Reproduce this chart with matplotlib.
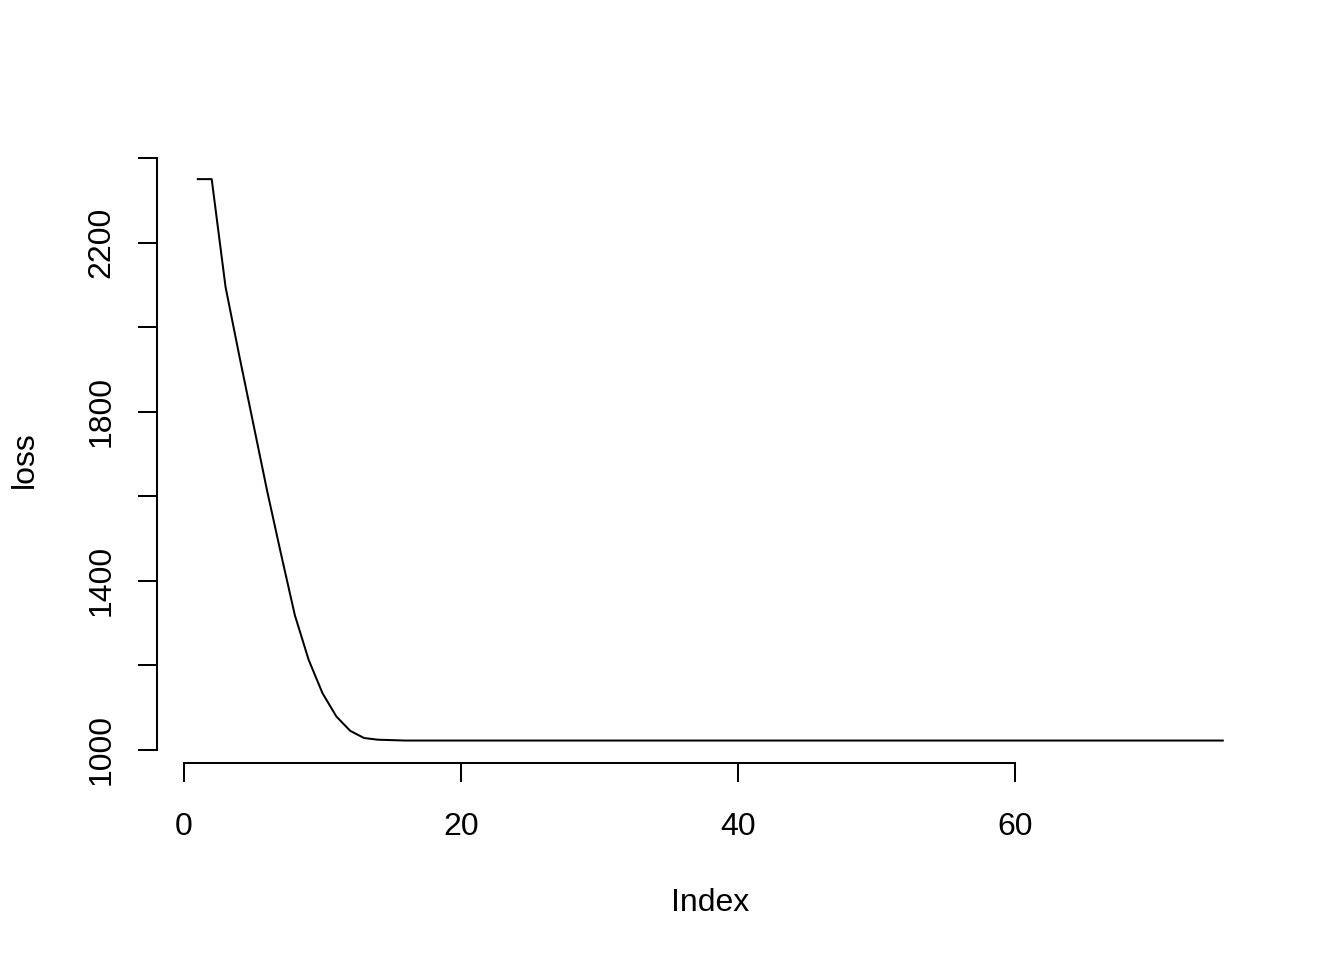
import matplotlib
matplotlib.use("Agg")
import matplotlib.pyplot as plt
import numpy as np

# loss per iteration (index 1..75)
loss = [
    2350, 2350, 2095, 1931, 1772, 1613, 1464, 1319, 1213, 1134,
    1079, 1045, 1028, 1024, 1023, 1022, 1022, 1022, 1022, 1022,
    1022, 1022, 1022, 1022, 1022, 1022, 1022, 1022, 1022, 1022,
    1022, 1022, 1022, 1022, 1022, 1022, 1022, 1022, 1022, 1022,
    1022, 1022, 1022, 1022, 1022, 1022, 1022, 1022, 1022, 1022,
    1022, 1022, 1022, 1022, 1022, 1022, 1022, 1022, 1022, 1022,
    1022, 1022, 1022, 1022, 1022, 1022, 1022, 1022, 1022, 1022,
    1022, 1022, 1022, 1022, 1022,
]
index = np.arange(1, len(loss) + 1)

x_ticks = [0, 20, 40, 60]
y_ticks = [1000, 1200, 1400, 1600, 1800, 2000, 2200, 2400]
y_labels = ["1000", "", "1400", "", "1800", "", "2200", ""]

plt.rcParams["font.family"] = ["Liberation Sans", "DejaVu Sans"]

fig = plt.figure(figsize=(13.44, 9.6), dpi=100)
ax = fig.add_axes([0.1167, 0.2052, 0.8236, 0.6316])
ax.plot(index, loss, color="black", lw=1.45)

# R-style limits: data range padded by 4%
xr = index.max() - index.min()
ax.set_xlim(index.min() - 0.04 * xr, index.max() + 0.04 * xr)
yr = max(loss) - min(loss)
ax.set_ylim(min(loss) - 0.04 * yr, max(loss) + 0.04 * yr)

for s in ("top", "right"):
    ax.spines[s].set_visible(False)
for s in ("left", "bottom"):
    ax.spines[s].set_linewidth(1.45)
ax.spines["left"].set_bounds(1000, 2400)
ax.spines["bottom"].set_bounds(0, 60)

ax.set_xticks(x_ticks)
ax.set_yticks(y_ticks)
ax.set_yticklabels(y_labels, rotation=90, va="center")
ax.tick_params(axis="both", direction="out", length=14, width=1.45, labelsize=23)
ax.tick_params(axis="x", pad=21)
ax.tick_params(axis="y", pad=15)

ax.set_xlabel("Index", fontsize=23)
ax.xaxis.label.set_va("center")
ax.xaxis.set_label_coords(0.5, -0.231)
ax.set_ylabel("loss", fontsize=23)
ax.yaxis.label.set_va("center")
ax.yaxis.set_label_coords(-0.119, 0.5)

fig.savefig("out.png", dpi=100, facecolor="white")
